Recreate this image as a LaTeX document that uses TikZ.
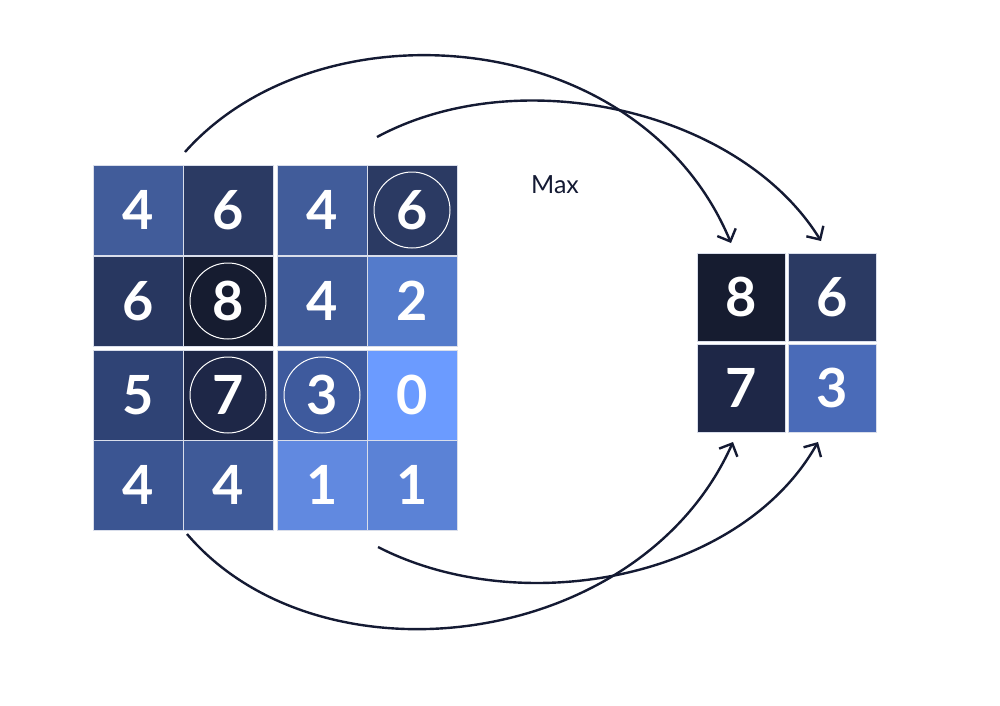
\documentclass[tikz,border=0pt]{standalone}
\usepackage{fontspec}
\setmainfont{Lato}
\usetikzlibrary{arrows.meta}
\definecolor{navy}{HTML}{141A33}
\definecolor{cA}{HTML}{415C9A}
\definecolor{cB}{HTML}{2B3A63}
\definecolor{cC}{HTML}{283760}
\definecolor{cD}{HTML}{161C30}
\definecolor{cE}{HTML}{3F5A98}
\definecolor{cF}{HTML}{547BCB}
\definecolor{cG}{HTML}{2F4375}
\definecolor{cH}{HTML}{1E2747}
\definecolor{cI}{HTML}{3E5A9D}
\definecolor{cJ}{HTML}{6B9BFF}
\definecolor{cK}{HTML}{3B5592}
\definecolor{cL}{HTML}{6189E0}
\definecolor{cM}{HTML}{5B82D6}
\definecolor{cN}{HTML}{4A6BB8}

\begin{document}
\begin{tikzpicture}[x=1pt,y=-1pt,
 cell/.style={draw=white!80!cA,line width=0.6pt,minimum width=90pt,minimum height=90pt,
   inner sep=0pt,text=white,font=\fontsize{54}{54}\selectfont\bfseries},
 ring/.style={draw=white,line width=1pt,circle,minimum size=76pt},
 link/.style={draw=navy,line width=2.4pt,-{Straight Barb[length=10pt,width=20pt]}}]
 \useasboundingbox (0,0) rectangle (1000,705);

 % input grid
 \foreach \n/\x/\y/\c/\v in {
  a/138/210/cA/4, b/228/210/cB/6, c/322/210/cA/4, d/412/210/cB/6,
  e/138/301/cC/6, f/228/301/cD/8, g/322/301/cE/4, h/412/301/cF/2,
  i/138/395/cG/5, j/228/395/cH/7, k/322/395/cI/3, l/412/395/cJ/0,
  m/138/485/cK/4, n/228/485/cE/4, o/322/485/cL/1, p/412/485/cM/1} {
  \node[cell,fill=\c] (\n) at (\x,\y) {\v};}
 \foreach \n in {d,f,j,k}
  \node[ring] at (\n) {};

 % output grid
 \foreach \n/\x/\y/\c/\v in {q/741/297/cD/8, r/832/297/cB/6, s/741/388/cH/7, t/832/388/cN/3} {
  \node[cell,fill=\c,minimum width=88pt,minimum height=88pt] (\n) at (\x,\y) {\v};}

 \node[font=\fontsize{25}{25}\selectfont,text=navy] (max) at (555,185) {Max};

 \coordinate (s1) at (185,152);
 \coordinate (s2) at (377,137);
 \coordinate (s3) at (187,534);
 \coordinate (s4) at (378,547);
 \coordinate (e1) at (731,243);
 \coordinate (e2) at (821,241);
 \coordinate (e3) at (733,442);
 \coordinate (e4) at (818,442);
 \draw[link] (s1) .. controls (320,0) and (640,25) .. (e1);
 \draw[link] (s2) .. controls (520,60) and (740,110) .. (e2);
 \draw[link] (s3) .. controls (320,690) and (640,650) .. (e3);
 \draw[link] (s4) .. controls (520,620) and (740,580) .. (e4);
\end{tikzpicture}
\end{document}
